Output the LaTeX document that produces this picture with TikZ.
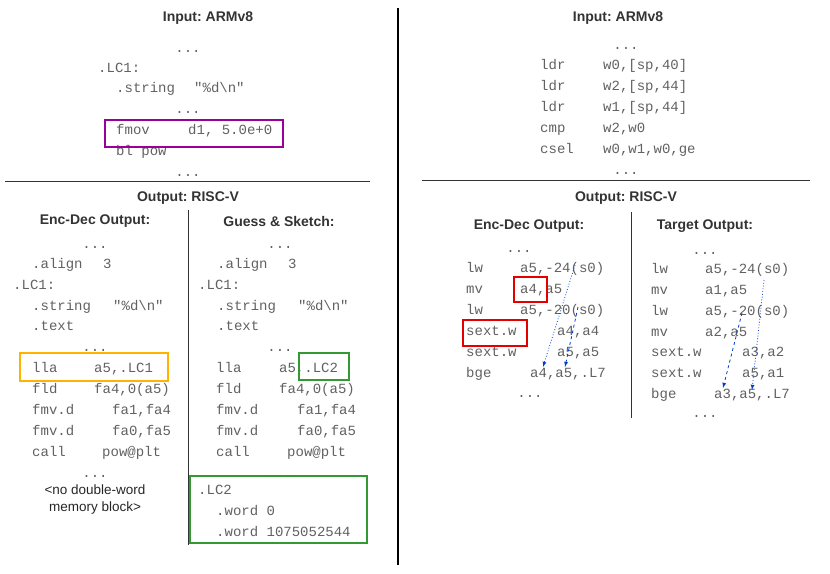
\documentclass[tikz,border=0pt]{standalone}
\usepackage{fontspec}
\setmainfont{Liberation Sans}
\setmonofont{Liberation Mono}
\frenchspacing
\begin{document}
\begin{tikzpicture}[x=1pt,y=-1pt,
  code/.style={anchor=base west,yshift=-4pt,inner sep=0pt,font=\ttfamily\fontsize{14}{15}\selectfont,text=black!62},
  dots/.style={anchor=base,yshift=-4pt,inner sep=0pt,font=\ttfamily\fontsize{14}{15}\selectfont,text=black!62},
  head/.style={inner sep=0pt,font=\bfseries\fontsize{14}{16}\selectfont,text=black!80},
  note/.style={inner sep=0pt,font=\fontsize{13.5}{15}\selectfont,text=black!85},
  sep/.style={draw=black!80,line width=0.8pt},
  hl/.style={line width=1.6pt},
  flow/.style={draw=blue!70!cyan!80!black,line width=0.8pt,-latex}]
\useasboundingbox (0,0) rectangle (830,573);
% separators
\draw[line width=1.6pt] (398,8) -- (398,565);
\draw[sep] (5,181) -- (370,181);
\draw[sep] (422,180) -- (810,180);
\draw[sep] (188,210) -- (188,545);
\draw[sep] (631,212) -- (631,418);
% left input
\node[head] (h1) at (208,18) {Input: ARMv8};
\node[dots] (d1) at (188,48) {...};
\node[code] (l1) at (98,68) {.LC1:};
\node[code] (l2) at (116,88) {.string};
\node[code] (l2b) at (194,88) {"\%d\textbackslash n"};
\node[dots] (d2) at (188,109) {...};
\node[code] (l3) at (116,130) {fmov};
\node[code] (l3b) at (188,130) {d1, 5.0e+0};
\node[code] (l4) at (116,151) {bl pow};
\node[dots] (d3) at (188,172) {...};
\draw[hl,draw=violet!80!magenta] (105,120) rectangle (283,147);
\node[head] (h2) at (188,198) {Output: RISC-V};
\node[head] (h3) at (95,221) {Enc-Dec Output:};
\node[head] (h4) at (279,221) {Guess \& Sketch:};
% enc-dec left column
\node[dots] (e0) at (95,244) {...};
\node[code] at (32,264) {.align}; \node[code] at (103,264) {3};
\node[code] at (13,285) {.LC1:};
\node[code] at (32,306) {.string};
\node[code] at (113,306) {"\%d\textbackslash n"};
\node[code] at (32,326) {.text};
\node[dots] at (95,347) {...};
\node[code] at (32,368) {lla}; \node[code] at (94,368) {a5,.LC1};
\node[code] at (32,389) {fld}; \node[code] at (94,389) {fa4,0(a5)};
\node[code] at (32,410) {fmv.d}; \node[code] at (112,410) {fa1,fa4};
\node[code] at (32,431) {fmv.d}; \node[code] at (112,431) {fa0,fa5};
\node[code] at (32,452) {call}; \node[code] at (102,452) {pow@plt};
\node[dots] at (95,473) {...};
\node[note] at (95,490) {<no double-word};
\node[note] at (95,508) {memory block>};
\draw[hl,draw=orange!60!yellow] (20,353) rectangle (168,381);
% guess & sketch
\node[dots] at (280,244) {...};
\node[code] at (217,264) {.align}; \node[code] at (288,264) {3};
\node[code] at (198,285) {.LC1:};
\node[code] at (217,306) {.string};
\node[code] at (298,306) {"\%d\textbackslash n"};
\node[code] at (217,326) {.text};
\node[dots] at (280,347) {...};
\node[code] at (216,368) {lla}; \node[code] at (279,368) {a5,.LC2};
\node[code] at (216,389) {fld}; \node[code] at (279,389) {fa4,0(a5)};
\node[code] at (216,410) {fmv.d}; \node[code] at (297,410) {fa1,fa4};
\node[code] at (216,431) {fmv.d}; \node[code] at (297,431) {fa0,fa5};
\node[code] at (216,452) {call}; \node[code] at (287,452) {pow@plt};
\node[dots] at (280,473) {...};
\draw[hl,draw=green!50!black!80] (299,353) rectangle (349,380);
\fill[white] (191,477) rectangle (366,542);
\node[code] at (198,490) {.LC2};
\node[code] at (216,511) {.word 0};
\node[code] at (216,532) {.word 1075052544};
\draw[hl,draw=green!50!black!80] (190,476) rectangle (367,543);
% right input
\node[head] at (618,18) {Input: ARMv8};
\node[dots] at (626,45) {...};
\node[code] at (540,65) {ldr}; \node[code] at (603,65) {w0,[sp,40]};
\node[code] at (540,86) {ldr}; \node[code] at (603,86) {w2,[sp,44]};
\node[code] at (540,107) {ldr}; \node[code] at (603,107) {w1,[sp,44]};
\node[code] at (540,128) {cmp}; \node[code] at (603,128) {w2,w0};
\node[code] at (540,149) {csel}; \node[code] at (603,149) {w0,w1,w0,ge};
\node[dots] at (626,170) {...};
\node[head] at (626,198) {Output: RISC-V};
\node[head] at (529,226) {Enc-Dec Output:};
\node[head] at (705,226) {Target Output:};
% enc-dec right
\node[dots] at (519,248) {...};
\node[code] at (466,268) {lw}; \node[code] (r1) at (520,268) {a5,-24(s0)};
\node[code] at (466,289) {mv}; \node[code] at (520,289) {a4,a5};
\node[code] at (466,310) {lw}; \node[code] (r3) at (520,310) {a5,-20(s0)};
\node[code] at (466,331) {sext.w}; \node[code] at (557,331) {a4,a4};
\node[code] at (466,352) {sext.w}; \node[code] at (557,352) {a5,a5};
\node[code] at (466,373) {bge}; \node[code] at (530,373) {a4,a5,.L7};
\node[dots] at (530,393) {...};
\draw[hl,draw=red!90!black] (514,277) rectangle (547,302);
\draw[hl,draw=red!90!black] (463,320) rectangle (527,346);
\coordinate (a1s) at (575,265); \coordinate (a1e) at (543,367);
\coordinate (a2s) at (578,307); \coordinate (a2e) at (565,367);
\draw[flow,dotted] (a1s) -- (a1e);
\draw[flow,dashed] (a2s) -- (a2e);
% target
\node[dots] at (705,250) {...};
\node[code] at (651,269) {lw}; \node[code] at (705,269) {a5,-24(s0)};
\node[code] at (651,290) {mv}; \node[code] at (705,290) {a1,a5};
\node[code] at (651,311) {lw}; \node[code] at (705,311) {a5,-20(s0)};
\node[code] at (651,332) {mv}; \node[code] at (705,332) {a2,a5};
\node[code] at (651,352) {sext.w}; \node[code] at (742,352) {a3,a2};
\node[code] at (651,373) {sext.w}; \node[code] at (742,373) {a5,a1};
\node[code] at (651,394) {bge}; \node[code] at (714,394) {a3,a5,.L7};
\node[dots] at (705,413) {...};
\coordinate (b1s) at (764,280); \coordinate (b1e) at (752,390);
\coordinate (b2s) at (742,313); \coordinate (b2e) at (723,388);
\draw[flow,dotted] (b1s) -- (b1e);
\draw[flow,dashed] (b2s) -- (b2e);
\end{tikzpicture}
\end{document}
